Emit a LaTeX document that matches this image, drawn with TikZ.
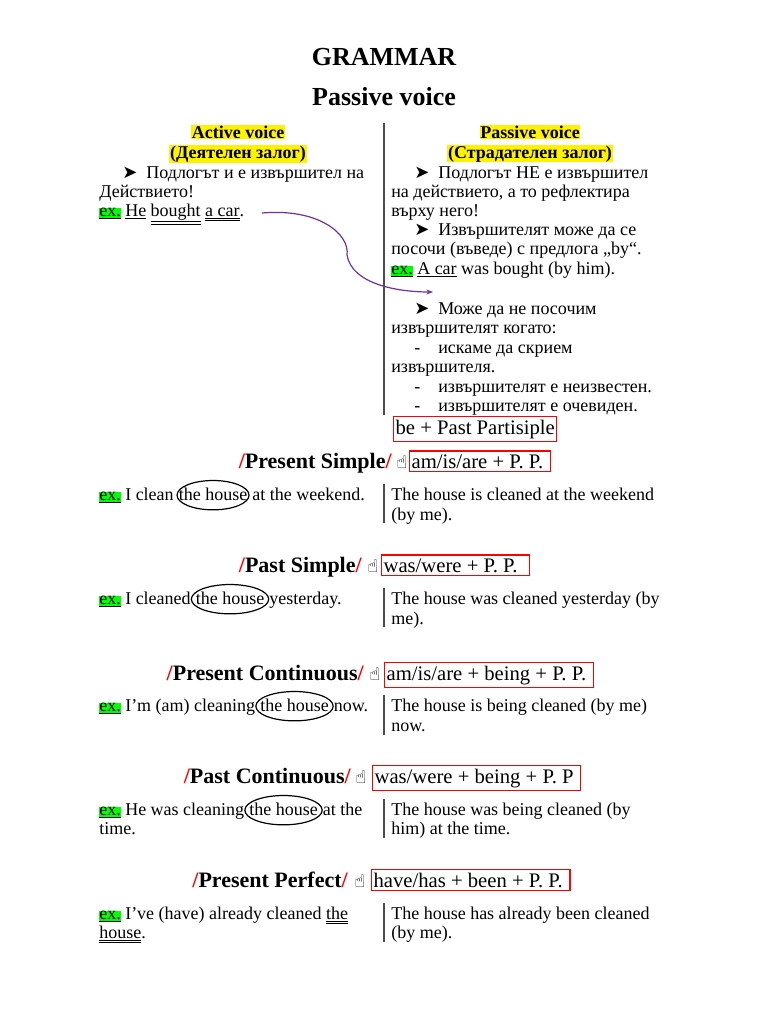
\documentclass[tikz,border=0pt]{standalone}
\usepackage{fontspec}
\setmainfont{Liberation Serif}
\newfontfamily\symfont{DejaVu Sans}
\usetikzlibrary{positioning,arrows.meta}
\definecolor{arrowviolet}{RGB}{112,48,160}
\newcommand\exmark{{\setlength\fboxsep{0pt}\colorbox{green}{\underline{ex.}}}}
\newcommand\hly[1]{{\setlength\fboxsep{0.5pt}\colorbox{yellow}{#1}}}
\newcommand\hand{{\symfont ☝}}
\newcommand\bul{{\symfont ➤}}
\newcommand\uu[1]{\underline{\underline{#1}}}
\tikzset{
  txt/.style={anchor=base west, inner sep=0pt, font=\fontsize{13.5}{15}\selectfont},
  colhead/.style={anchor=base, inner sep=0pt, font=\fontsize{13.5}{15}\selectfont\bfseries},
  head/.style={anchor=base east, inner sep=0pt, font=\fontsize{16.5}{18}\selectfont\bfseries},
  rule/.style={line width=1pt, draw=black!70},
  pp/.style={draw=red, line width=0.9pt, anchor=base west, inner xsep=1.5pt, inner ysep=2.5pt, font=\fontsize{15.5}{18}\selectfont},
  oval/.style={line width=0.9pt},
}
\begin{document}
\begin{tikzpicture}[x=0.75pt,y=-0.75pt]
\useasboundingbox (0,0) rectangle (768,1024);
% Titles
\node[font=\fontsize{19.5}{22}\selectfont\bfseries, anchor=base, inner sep=0pt] (title) at (384,65) {GRAMMAR};
\node[font=\fontsize{19.5}{22}\selectfont\bfseries, anchor=base, inner sep=0pt] (sub) at (384,105) {Passive voice};

% Active voice column
\node[colhead] (act1) at (238,138) {\hly{Active voice}};
\node[colhead] (act2) at (238,158) {\hly{(Деятелен залог)}};
\node[txt] (a1) at (122,178) {\bul\ \ Подлогът и е извършител на};
\node[txt] (a2) at (99,197) {Действието!};
\node[txt] (a3) at (99,216) {\exmark\ \underline{He} \uu{bought} \uu{a car}.};

% Passive voice column
\node[colhead] (pas1) at (530,138) {\hly{Passive voice}};
\node[colhead] (pas2) at (530,158) {\hly{(Страдателен залог)}};
\node[txt] (p1) at (414,178) {\bul\ \ Подлогът НЕ е извършител};
\node[txt] (p2) at (391,197) {на действието, а то рефлектира};
\node[txt] (p3) at (391,216) {върху него!};
\node[txt] (p4) at (414,235) {\bul\ \ Извършителят може да се};
\node[txt] (p5) at (391,254) {посочи (въведе) с предлога „by“.};
\node[txt] (p6) at (391,274) {\exmark\ \underline{A car} was bought (by him).};
\node[txt] (p7) at (414,314) {\bul\ \ Може да не посочим};
\node[txt] (p8) at (391,333) {извършителят когато:};
\node[txt] (p9) at (414,353) {-\ \ \ \ искаме да скрием};
\node[txt] (p10) at (391,372) {извършителя.};
\node[txt] (p11) at (414,392) {-\ \ \ \ извършителят е неизвестен.};
\node[txt] (p12) at (414,411) {-\ \ \ \ извършителят е очевиден.};
\node[pp] (be) at (393,434) {be + Past Partisiple};
\coordinate (top) at (384,123);
\coordinate (bot) at (384,415);
\draw[rule] (top) -- (bot);
\coordinate (cs) at (262,213);
\coordinate (ce) at (433,292);
\draw[arrowviolet, line width=0.9pt, -{Stealth[length=5pt]}] (cs) .. controls (320,208) and (350,235) .. (347,255) .. controls (352,285) and (400,292) .. (ce);

% Present Simple
\node[head] (h1) at (392,468) {\textcolor{red}{/}Present Simple\textcolor{red}{/}};
\node[txt] (k1) at (396,468) {\hand};
\node[pp] (b1) at (409,468) {am/is/are + P. P.\ \ };
\node[txt] (l1a) at (99,500) {\exmark\ I clean};
\node[txt] (l1b) at ([xshift=3.4pt]l1a.base east) {the house};
\node[txt] (l1c) at ([xshift=3.4pt]l1b.base east) {at the weekend.};
\draw[oval] ([yshift=-1pt]l1b.center) ellipse (27pt and 11pt);
\node[txt] (r1a) at (391,500) {The house is cleaned at the weekend};
\node[txt] (r1b) at (391,520) {(by me).};
\draw[rule] (384,484) -- (384,523);

% Past Simple
\node[head] (h2) at (362,572) {\textcolor{red}{/}Past Simple\textcolor{red}{/}};
\node[txt] (k2) at (367,572) {\hand};
\node[pp] (b2) at (381,572) {was/were + P. P.\ \ \ };
\node[txt] (l2a) at (99,604) {\exmark\ I cleaned};
\node[txt] (l2b) at ([xshift=3.4pt]l2a.base east) {the house};
\node[txt] (l2c) at ([xshift=3.4pt]l2b.base east) {yesterday.};
\draw[oval] ([yshift=-1pt]l2b.center) ellipse (29pt and 11pt);
\node[txt] (r2a) at (391,604) {The house was cleaned yesterday (by};
\node[txt] (r2b) at (391,624) {me).};
\draw[rule] (384,588) -- (384,627);

% Present Continuous
\node[head] (h3) at (364,680) {\textcolor{red}{/}Present Continuous\textcolor{red}{/}};
\node[txt] (k3) at (369,680) {\hand};
\node[pp] (b3) at (384,680) {am/is/are + being + P. P.\ \ };
\node[txt] (l3a) at (99,711) {\exmark\ I’m (am) cleaning};
\node[txt] (l3b) at ([xshift=3.4pt]l3a.base east) {the house};
\node[txt] (l3c) at ([xshift=3.4pt]l3b.base east) {now.};
\draw[oval] ([yshift=-1pt]l3b.center) ellipse (29pt and 11pt);
\node[txt] (r3a) at (391,711) {The house is being cleaned (by me)};
\node[txt] (r3b) at (391,731) {now.};
\draw[rule] (384,695) -- (384,735);

% Past Continuous
\node[head] (h4) at (351,783) {\textcolor{red}{/}Past Continuous\textcolor{red}{/}};
\node[txt] (k4) at (355,783) {\hand};
\node[pp] (b4) at (372,783) {was/were + being + P. P\ \ };
\node[txt] (l4a) at (99,815) {\exmark\ He was cleaning};
\node[txt] (l4b) at ([xshift=3.4pt]l4a.base east) {the house};
\node[txt] (l4c) at ([xshift=3.4pt]l4b.base east) {at the};
\node[txt] (l4d) at (99,834) {time.};
\draw[oval] ([yshift=-1pt]l4b.center) ellipse (29pt and 11pt);
\node[txt] (r4a) at (391,815) {The house was being cleaned (by};
\node[txt] (r4b) at (391,834) {him) at the time.};
\draw[rule] (384,799) -- (384,838);

% Present Perfect
\node[head] (h5) at (348,887) {\textcolor{red}{/}Present Perfect\textcolor{red}{/}};
\node[txt] (k5) at (354,887) {\hand};
\node[pp] (b5) at (371,887) {have/has + been + P. P.\ \ };
\node[txt] (l5a) at (99,919) {\exmark\ I’ve (have) already cleaned \uu{the}};
\node[txt] (l5b) at (99,938) {\uu{house}.};
\node[txt] (r5a) at (391,919) {The house has already been cleaned};
\node[txt] (r5b) at (391,938) {(by me).};
\draw[rule] (384,903) -- (384,942);
\end{tikzpicture}
\end{document}
